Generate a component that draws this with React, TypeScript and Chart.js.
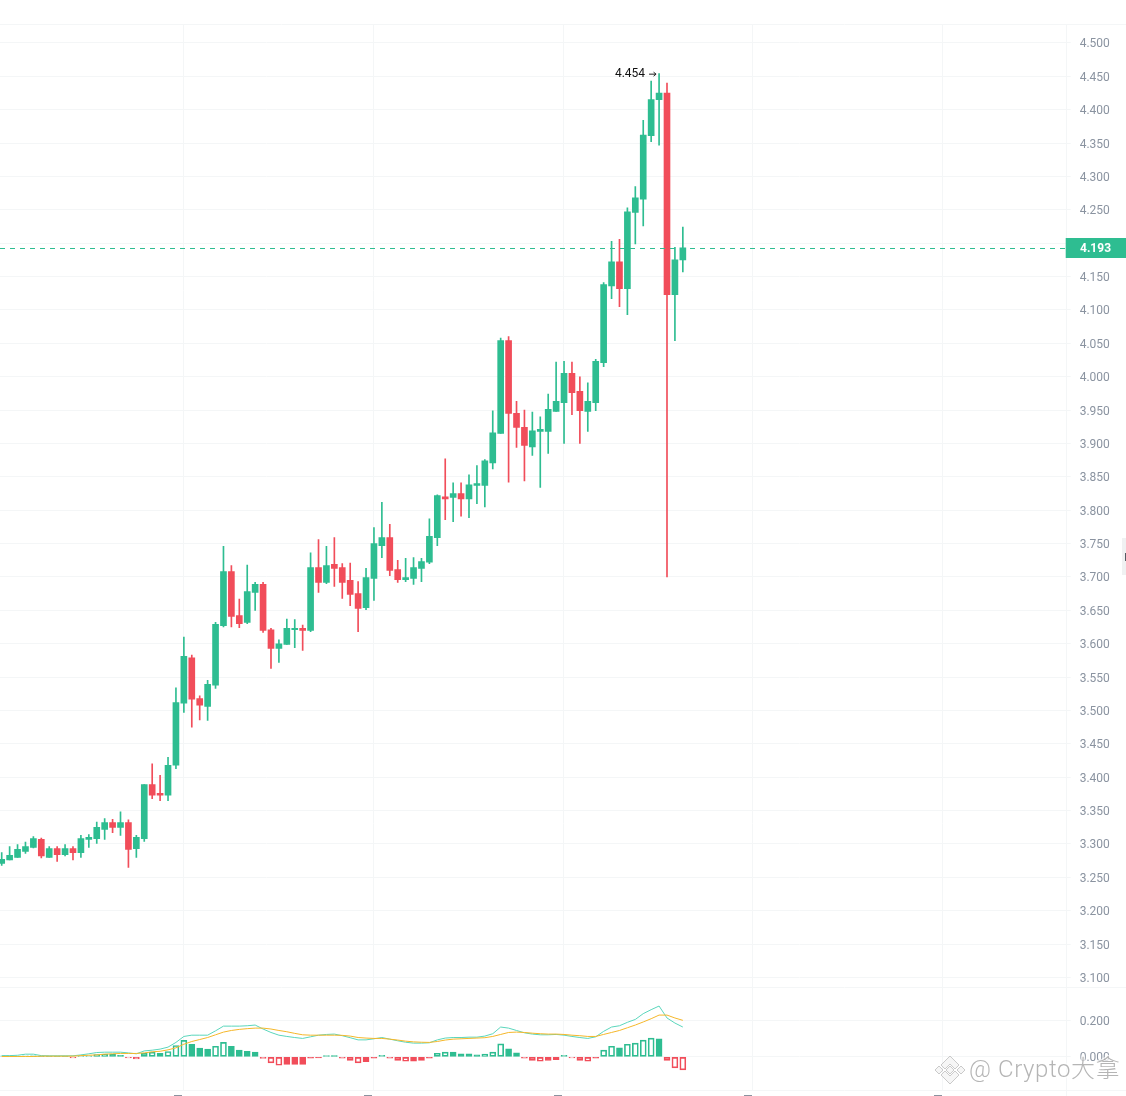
import React, { useEffect, useRef } from "react";
import { Chart, registerables } from "chart.js";

Chart.register(...registerables);

const opens = [
  3.271,3.276,3.280,3.289,3.295,3.307,3.280,3.293,3.284,3.293,
  3.287,3.307,3.308,3.322,3.332,3.325,3.332,3.293,3.308,3.389,
  3.376,3.373,3.418,3.511,3.579,3.518,3.506,3.538,3.627,3.708,
  3.642,3.632,3.677,3.689,3.621,3.593,3.599,3.621,3.623,3.620,
  3.714,3.692,3.719,3.714,3.695,3.675,3.654,3.698,3.747,3.759,
  3.711,3.696,3.698,3.713,3.722,3.759,3.820,3.819,3.825,3.817,
  3.837,3.837,3.871,3.915,4.054,3.945,3.924,3.895,3.918,3.918,
  3.948,3.961,4.005,3.978,3.948,3.961,4.021,4.136,4.172,4.132,
  4.246,4.266,4.361,4.415,4.425,4.123,4.175,
];
const highs = [
  3.287,3.296,3.299,3.303,3.311,3.309,3.296,3.296,3.299,3.296,
  3.313,3.314,3.333,3.338,3.337,3.348,3.336,3.313,3.389,3.420,
  3.403,3.430,3.534,3.610,3.583,3.522,3.545,3.632,3.746,3.717,
  3.667,3.718,3.692,3.692,3.623,3.606,3.637,3.636,3.628,3.736,
  3.756,3.746,3.759,3.720,3.721,3.693,3.713,3.774,3.812,3.779,
  3.725,3.728,3.729,3.728,3.787,3.823,3.877,3.841,3.841,3.853,
  3.867,3.876,3.949,4.058,4.060,3.963,3.950,3.947,3.940,3.974,
  4.022,4.023,4.022,4.000,3.991,4.026,4.141,4.203,4.206,4.253,
  4.285,4.384,4.443,4.454,4.440,4.194,4.224,
];
const lows = [
  3.268,3.276,3.280,3.286,3.294,3.279,3.280,3.274,3.282,3.276,
  3.280,3.295,3.301,3.307,3.317,3.313,3.265,3.280,3.304,3.368,
  3.365,3.365,3.413,3.497,3.475,3.486,3.485,3.533,3.625,3.625,
  3.624,3.630,3.650,3.617,3.563,3.572,3.599,3.594,3.590,3.618,
  3.677,3.690,3.686,3.668,3.657,3.618,3.651,3.665,3.729,3.702,
  3.692,3.693,3.689,3.693,3.720,3.747,3.786,3.783,3.791,3.789,
  3.810,3.805,3.862,3.915,3.842,3.894,3.844,3.882,3.834,3.885,
  3.948,3.900,3.943,3.900,3.918,3.949,4.015,4.117,4.105,4.093,
  4.199,4.226,4.352,4.347,3.700,4.054,4.157,
];
const closes = [
  3.277,3.283,3.292,3.296,3.308,3.282,3.293,3.284,3.293,3.287,
  3.308,3.310,3.325,3.332,3.325,3.332,3.292,3.310,3.389,3.373,
  3.373,3.418,3.512,3.581,3.517,3.508,3.539,3.629,3.708,3.641,
  3.630,3.678,3.689,3.620,3.593,3.600,3.623,3.623,3.620,3.714,
  3.692,3.717,3.713,3.692,3.674,3.653,3.699,3.750,3.759,3.710,
  3.696,3.699,3.714,3.723,3.761,3.822,3.817,3.825,3.817,3.838,
  3.840,3.874,3.916,4.054,3.945,3.924,3.897,3.919,3.921,3.951,
  3.963,4.005,3.976,3.949,3.963,4.023,4.138,4.172,4.132,4.247,
  4.268,4.362,4.415,4.425,4.123,4.175,4.193,
];
const macdHist = [
  .006,.006,.004,.006,.006,.004,.004,.004,.004,-.006,
  .004,.006,.013,.015,.015,.009,-.006,-.011,.019,.026,
  .019,.030,.063,.091,.070,.048,.043,.059,.080,.059,
  .037,.031,.026,-.009,-.033,-.046,-.041,-.041,-.041,-.007,
  -.006,.007,.007,-.007,-.019,-.033,-.026,-.007,.009,-.007,
  -.019,-.024,-.024,-.019,-.007,.020,.026,.026,.017,.017,
  .011,.015,.026,.072,.044,.022,-.007,-.019,-.024,-.020,
  -.015,.009,-.006,-.019,-.024,-.007,.037,.059,.050,.070,
  .076,.093,.104,.100,-.019,-.061,-.072,
];
const dif = [
  .007,.007,.009,.015,.015,.007,.006,.006,.006,.006,
  .011,.017,.024,.026,.026,.026,.022,.017,.033,.037,
  .043,.054,.080,.113,.120,.120,.120,.144,.170,.170,
  .170,.172,.176,.154,.135,.120,.113,.107,.102,.111,
  .120,.124,.126,.117,.106,.094,.094,.100,.107,.098,
  .089,.081,.076,.076,.078,.094,.104,.107,.107,.109,
  .109,.115,.128,.165,.159,.146,.133,.126,.122,.122,
  .124,.120,.113,.107,.102,.111,.141,.165,.172,.191,
  .207,.239,.261,.281,.215,.187,.165,
];
const dea = [
  .002,.002,.002,.002,.002,.004,.004,.004,.004,.004,
  .007,.009,.011,.015,.017,.019,.019,.019,.022,.028,
  .031,.039,.050,.070,.085,.096,.107,.122,.137,.146,
  .152,.156,.159,.159,.154,.146,.139,.130,.122,.120,
  .120,.120,.120,.119,.115,.107,.104,.102,.102,.098,
  .093,.087,.083,.081,.080,.085,.093,.098,.100,.102,
  .104,.106,.113,.124,.135,.137,.135,.131,.128,.126,
  .126,.124,.120,.117,.113,.113,.124,.135,.146,.161,
  .176,.193,.211,.231,.231,.215,.202,
];
const priceTicks = [
  4.5,4.45,4.4,4.35,4.3,4.25,4.2,4.15,4.1,4.05,4.0,3.95,3.9,3.85,3.8,
  3.75,3.7,3.65,3.6,3.55,3.5,3.45,3.4,3.35,3.3,3.25,3.2,3.15,3.1,
];
const macdTicks = [0.2, 0];
const timeTicks = [22.95, 46.92, 70.9, 94.84, 118.8];
const lastPrice = 4.193;
const highLabelIndex = 83;
const highLabel = 4.454;
const watermark = "@ Crypto大拿";

const GREEN = "#2EBD91";
const RED = "#F14D5A";
const GRID = "#F4F6F7";
const FONT = 'Roboto, "Noto Sans CJK SC", sans-serif';

const indices = opens.map((_, i) => i);
const candleColor = indices.map((i) => (closes[i] >= opens[i] ? GREEN : RED));
const histColor = macdHist.map((v) => (v >= 0 ? GREEN : RED));
const histFill = macdHist.map((v, i) => {
  const prev = i > 0 ? macdHist[i - 1] : 0;
  const hollow = (v > 0 && v > prev) || (v < 0 && v < prev);
  return hollow ? "rgba(255,255,255,0)" : histColor[i];
});

const fitY = (s: any) => {
  s.width = 60.3;
  s.paddingTop = 0;
  s.paddingBottom = 0;
};

const overlayPlugin = {
  id: "overlay",
  beforeDatasetsDraw(chart: any) {
    const { ctx, chartArea, width, height } = chart;
    const p = chart.scales.price;
    const m = chart.scales.macd;
    ctx.save();
    ctx.strokeStyle = GRID;
    ctx.lineWidth = 1;
    for (const y of [p.top, p.bottom, m.bottom]) {
      ctx.beginPath();
      ctx.moveTo(0, Math.round(y) + 0.5);
      ctx.lineTo(width, Math.round(y) + 0.5);
      ctx.stroke();
    }
    ctx.beginPath();
    ctx.moveTo(Math.round(chartArea.right) + 0.5, chartArea.top);
    ctx.lineTo(Math.round(chartArea.right) + 0.5, height);
    ctx.stroke();
    const x = chart.scales.x;
    ctx.fillStyle = "#8A93A0";
    for (const t of timeTicks) {
      const px = x.getPixelForValue(t);
      ctx.fillRect(Math.round(px) - 9, height - 1, 8, 1);
    }
    // scroll handle at the right edge of the page
    ctx.fillStyle = "#F0F1F2";
    ctx.fillRect(width - 4, 538, 4, 37);
    ctx.fillStyle = "#555B63";
    ctx.fillRect(width - 1, 553, 1, 8);
    ctx.restore();
  },
  afterDatasetsDraw(chart: any) {
    const { ctx, chartArea, width } = chart;
    const p = chart.scales.price;
    const x = chart.scales.x;
    ctx.save();
    const ly = Math.round(p.getPixelForValue(lastPrice));
    ctx.strokeStyle = GREEN;
    ctx.lineWidth = 1;
    ctx.setLineDash([5, 5]);
    ctx.beginPath();
    ctx.moveTo(0, ly + 0.5);
    ctx.lineTo(chartArea.right, ly + 0.5);
    ctx.stroke();
    ctx.setLineDash([]);
    ctx.fillStyle = GREEN;
    ctx.fillRect(chartArea.right, ly - 10, width - chartArea.right, 20);
    ctx.fillStyle = "#FFFFFF";
    ctx.font = `bold 12px ${FONT}`;
    ctx.textAlign = "left";
    ctx.textBaseline = "middle";
    ctx.fillText(lastPrice.toFixed(3), 1080, ly + 0.5);

    const hx = x.getPixelForValue(highLabelIndex);
    const hy = p.getPixelForValue(highLabel);
    ctx.fillStyle = "#111111";
    ctx.font = `12px ${FONT}`;
    ctx.textAlign = "right";
    ctx.fillText(highLabel.toFixed(3), hx - 14, hy);
    ctx.strokeStyle = "#222222";
    ctx.beginPath();
    ctx.moveTo(hx - 10, hy + 0.5);
    ctx.lineTo(hx - 3, hy + 0.5);
    ctx.moveTo(hx - 5.5, hy - 1.5);
    ctx.lineTo(hx - 3, hy + 0.5);
    ctx.lineTo(hx - 5.5, hy + 2.5);
    ctx.stroke();
    ctx.restore();
  },
  afterDraw(chart: any) {
    const { ctx } = chart;
    ctx.save();
    // watermark text
    ctx.font = `300 24px ${FONT}`;
    (ctx as any).letterSpacing = "0.6px";
    ctx.textAlign = "left";
    ctx.textBaseline = "middle";
    ctx.lineWidth = 2.5;
    ctx.strokeStyle = "rgba(255,255,255,0.75)";
    ctx.strokeText(watermark, 969, 1071);
    ctx.fillStyle = "rgba(120,120,120,0.55)";
    ctx.fillText(watermark, 969, 1071);
    // watermark mark: chevrons and diamonds
    const cx = 950;
    const cy = 1070;
    const poly = (pts: number[][]) => {
      ctx.beginPath();
      pts.forEach(([a, b], k) => (k ? ctx.lineTo(cx + a, cy + b) : ctx.moveTo(cx + a, cy + b)));
      ctx.closePath();
      ctx.fill();
      ctx.stroke();
    };
    ctx.strokeStyle = "rgba(190,190,190,0.8)";
    ctx.lineWidth = 1;
    ctx.fillStyle = "rgba(245,245,245,0.9)";
    const shapes = [
      [[0, -14], [9, -5], [5, -1], [0, -6], [-5, -1], [-9, -5]],
      [[0, 14], [9, 5], [5, 1], [0, 6], [-5, 1], [-9, 5]],
      [[-11, -4], [-7, 0], [-11, 4], [-15, 0]],
      [[11, -4], [15, 0], [11, 4], [7, 0]],
      [[0, -4], [4, 0], [0, 4], [-4, 0]],
    ];
    shapes.forEach(poly);
    ctx.restore();
  },
};

export default function App() {
  const ref = useRef<HTMLCanvasElement>(null);

  useEffect(() => {
    const chart = new Chart(ref.current as HTMLCanvasElement, {
      type: "bar",
      data: {
        datasets: [
          {
            type: "line",
            label: "DEA",
            yAxisID: "macd",
            data: indices.map((i) => ({ x: i, y: dea[i] })),
            borderColor: "#F5B72A",
            borderWidth: 1,
            pointRadius: 0,
            tension: 0,
            order: 1,
          },
          {
            type: "line",
            label: "DIF",
            yAxisID: "macd",
            data: indices.map((i) => ({ x: i, y: dif[i] })),
            borderColor: "#5AD6BC",
            borderWidth: 1,
            pointRadius: 0,
            tension: 0,
            order: 2,
          },
          {
            label: "MACD",
            yAxisID: "macd",
            data: indices.map((i) => ({ x: i, y: macdHist[i] })),
            backgroundColor: histFill,
            borderColor: histColor,
            borderWidth: 1,
            borderSkipped: false,
            barThickness: 6,
            grouped: false,
            order: 3,
          },
          {
            label: "Body",
            yAxisID: "price",
            data: indices.map((i) => ({ x: i, y: [opens[i], closes[i]] })),
            backgroundColor: candleColor,
            barThickness: 6,
            grouped: false,
            order: 4,
          },
          {
            label: "Wick",
            yAxisID: "price",
            data: indices.map((i) => ({ x: i, y: [lows[i], highs[i]] })),
            backgroundColor: candleColor,
            barThickness: 1,
            grouped: false,
            order: 5,
          },
        ],
      } as any,
      options: {
        animation: false,
        responsive: false,
        devicePixelRatio: 1,
        layout: { autoPadding: false, padding: { top: 24, left: 0, right: 0, bottom: 0 } },
        plugins: { legend: { display: false }, tooltip: { enabled: false } },
        scales: {
          x: {
            type: "linear",
            position: "bottom",
            offset: false,
            min: -0.215,
            max: 134.34,
            afterBuildTicks: (s: any) => {
              s.ticks = timeTicks.map((value) => ({ value }));
            },
            afterFit: (s: any) => {
              s.height = 6;
            },
            ticks: { display: false },
            grid: { color: GRID, drawTicks: false, offset: false },
            border: { display: false },
          },
          price: {
            type: "linear",
            position: "right",
            stack: "panes",
            stackWeight: 962.5,
            min: 3.0865,
            max: 4.5284,
            afterBuildTicks: (s: any) => {
              s.ticks = priceTicks.map((value) => ({ value }));
            },
            afterFit: fitY,
            ticks: {
              autoSkip: false,
              padding: 9,
              labelOffset: 1.5,
              color: "#8A93A0",
              font: { family: FONT, size: 12 },
              callback: (v: any) => Number(v).toFixed(3),
            },
            grid: { color: GRID, tickLength: 5, tickColor: GRID },
            border: { display: false },
          },
          macd: {
            type: "linear",
            position: "right",
            stack: "panes",
            stackWeight: 103.5,
            min: -0.183,
            max: 0.389,
            afterBuildTicks: (s: any) => {
              s.ticks = macdTicks.map((value) => ({ value }));
            },
            afterFit: fitY,
            ticks: {
              autoSkip: false,
              padding: 9,
              labelOffset: 1,
              color: "#8A93A0",
              font: { family: FONT, size: 12 },
              callback: (v: any) => Number(v).toFixed(3),
            },
            grid: { color: GRID, tickLength: 5, tickColor: GRID },
            border: { display: false },
          },
        },
      } as any,
      plugins: [overlayPlugin],
    });
    return () => chart.destroy();
  }, []);

  return (
    <div style={{ position: "absolute", left: 0, top: 0, width: 1126, height: 1096 }}>
      <canvas ref={ref} width={1126} height={1096} style={{ display: "block" }} />
    </div>
  );
}
